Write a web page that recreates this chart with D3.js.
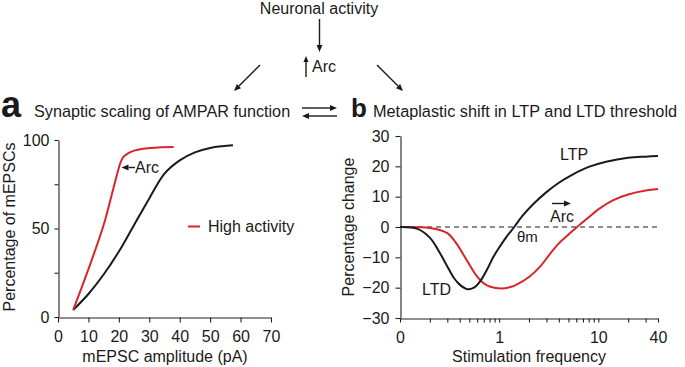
<!doctype html>
<html>
<head>
<meta charset="utf-8" />
<script src="https://cdn.jsdelivr.net/npm/d3@7/dist/d3.min.js"></script>
<style>
  body { margin: 0; background: #fff; }
  svg text { font-family: "Liberation Sans", Arial, Helvetica, sans-serif; fill: #1a1a1a; }
</style>
</head>
<body>
<svg id="fig" width="685" height="367"></svg>

<script>
// ---- panel a: cumulative mEPSC amplitude ----
var ampControl   = [5, 10, 15, 20, 25, 30, 35, 40, 45, 50, 54, 57.5];
var pctControl   = [4, 13, 24, 37, 52, 67, 81, 88.5, 93, 95.5, 96.5, 97];
var ampHigh      = [5, 10, 15, 17.5, 19.8, 20.6, 21.5, 23, 25, 28, 33, 38];
var pctHigh      = [4, 27, 52, 68, 83, 87.5, 90.5, 92.5, 94, 95, 95.8, 96];
var aXTicks      = [0, 10, 20, 30, 40, 50, 60, 70];
var aYTicks      = [0, 25, 50, 75, 100];
var aYLabels     = [0, 50, 100];

// ---- panel b: BCM curve, LTP/LTD vs stimulation frequency ----
var freqBlack    = [0.1, 0.15, 0.2, 0.25, 0.3, 0.35, 0.4, 0.48, 0.55, 0.64, 0.75, 0.87, 1.0, 1.2, 1.42, 1.7, 2.2, 3.0, 4.0, 5.5, 8, 12, 20, 30, 40];
var changeBlack  = [0, -0.6, -3.5, -8.3, -13, -16.8, -19, -20.5, -20.1, -18, -14.2, -10, -6.8, -3, 0, 3.5, 7.5, 11.5, 14.6, 17.3, 19.8, 21.5, 22.8, 23.2, 23.4];
var freqRed      = [0.1, 0.2, 0.3, 0.37, 0.47, 0.6, 0.7, 0.8, 1.05, 1.3, 1.5, 2.0, 2.6, 3.2, 4.0, 5.0, 6.1, 8, 10, 14, 20, 30, 40];
var changeRed    = [0, -0.3, -2, -5.4, -10.9, -16.4, -18.6, -19.6, -20.3, -19.8, -19, -16.5, -13, -9.2, -5.4, -2.5, 0, 3.2, 5.8, 8.8, 10.7, 12, 12.5];
var bXTicks      = [0.1, 0.2, 0.3, 0.4, 0.5, 0.6, 0.7, 0.8, 0.9, 1, 2, 3, 4, 5, 6, 7, 8, 9, 10, 20, 30, 40];
var bXLabels     = {0.1: "0", 1: "1", 10: "10", 40: "40"};
var bYTicks      = [-30, -20, -10, 0, 10, 20, 30];

var RED = "#d8242c", BLACK = "#1a1a1a";

var svg = d3.select("#fig");

function arrow(g, x1, y1, x2, y2, head) {
  // line from (x1,y1) to tip (x2,y2) with a filled head
  head = head || 7;
  var ang = Math.atan2(y2 - y1, x2 - x1);
  var hx = x2 - head * Math.cos(ang), hy = y2 - head * Math.sin(ang);
  g.append("line").attr("x1", x1).attr("y1", y1).attr("x2", hx).attr("y2", hy)
    .attr("stroke", BLACK).attr("stroke-width", 1.4);
  var w = head * 0.42;
  var px = -Math.sin(ang) * w, py = Math.cos(ang) * w;
  g.append("path")
    .attr("d", "M" + x2 + "," + y2 + "L" + (hx + px) + "," + (hy + py) + "L" + (hx - px) + "," + (hy - py) + "Z")
    .attr("fill", BLACK);
}

// ---- top schematic ----
var gTop = svg.append("g");
gTop.append("text").attr("x", 319).attr("y", 14).attr("text-anchor", "middle")
  .attr("font-size", 16).text("Neuronal activity");
arrow(gTop, 319.5, 19, 319.5, 52);
arrow(gTop, 306, 77, 306, 56, 6);
gTop.append("text").attr("x", 312).attr("y", 72).attr("font-size", 16).text("Arc");
arrow(gTop, 260, 65, 234, 91);
arrow(gTop, 377, 65, 403, 91);

// panel letters and titles
gTop.append("text").attr("x", 1).attr("y", 117).attr("font-size", 36).attr("font-weight", "bold").text("a");
gTop.append("text").attr("x", 34).attr("y", 117).attr("font-size", 16.2).text("Synaptic scaling of AMPAR function");
arrow(gTop, 302, 108, 337, 108, 7);
arrow(gTop, 337, 116, 302, 116, 7);
gTop.append("text").attr("x", 351).attr("y", 117).attr("font-size", 26).attr("font-weight", "bold").text("b");
gTop.append("text").attr("x", 373).attr("y", 117).attr("font-size", 16.3).text("Metaplastic shift in LTP and LTD threshold");

// ---- panel a ----
var ax = d3.scaleLinear().domain([0, 70]).range([58, 271]);
var ay = d3.scaleLinear().domain([0, 100]).range([317, 140]);
var ga = svg.append("g");

ga.append("g").attr("transform", "translate(0," + 317.5 + ")")
  .call(d3.axisBottom(ax).tickValues(aXTicks).tickSize(5).tickSizeOuter(0).tickPadding(8));
ga.append("g").attr("transform", "translate(" + 58.5 + ",0)")
  .call(d3.axisLeft(ay).tickValues(aYTicks).tickSize(4).tickSizeOuter(0).tickPadding(5)
    .tickFormat(function (d) { return aYLabels.indexOf(d) >= 0 ? d : ""; }));

var lineA = d3.line().curve(d3.curveCatmullRom.alpha(0.5));
ga.append("path")
  .attr("d", lineA(ampControl.map(function (d, i) { return [ax(d), ay(pctControl[i])]; })))
  .attr("fill", "none").attr("stroke", BLACK).attr("stroke-width", 2);
ga.append("path")
  .attr("d", lineA(ampHigh.map(function (d, i) { return [ax(d), ay(pctHigh[i])]; })))
  .attr("fill", "none").attr("stroke", RED).attr("stroke-width", 2);

arrow(ga, 135, 167.5, 121.5, 167.5, 7);
ga.append("text").attr("x", 135).attr("y", 173).attr("font-size", 16).text("Arc");
ga.append("line").attr("x1", 188).attr("x2", 200).attr("y1", 226.5).attr("y2", 226.5)
  .attr("stroke", RED).attr("stroke-width", 2);
ga.append("text").attr("x", 208).attr("y", 232).attr("font-size", 16).text("High activity");

ga.append("text").attr("x", 165).attr("y", 362).attr("text-anchor", "middle")
  .attr("font-size", 16).text("mEPSC amplitude (pA)");
ga.append("text").attr("transform", "translate(15,227) rotate(-90)").attr("text-anchor", "middle")
  .attr("font-size", 16).text("Percentage of mEPSCs");

// ---- panel b ----
var bx = d3.scaleLog().domain([0.1, 40]).range([400, 658]);
var by = d3.scaleLinear().domain([-30, 30]).range([318, 136]);
var gb = svg.append("g");

gb.append("g").attr("transform", "translate(0," + 318.5 + ")")
  .call(d3.axisBottom(bx).tickValues(bXTicks).tickSize(4).tickSizeOuter(0).tickPadding(9)
    .tickFormat(function (d) { return bXLabels[d] || ""; }));
gb.append("g").attr("transform", "translate(" + 400.5 + ",0)")
  .call(d3.axisLeft(by).tickValues(bYTicks).tickSize(5).tickSizeOuter(0).tickPadding(6));

gb.append("line").attr("x1", bx(0.1)).attr("x2", bx(40)).attr("y1", by(0)).attr("y2", by(0))
  .attr("stroke", BLACK).attr("stroke-width", 1.2).attr("stroke-dasharray", "5,4");

var lineB = d3.line().curve(d3.curveCatmullRom.alpha(0.5));
gb.append("path")
  .attr("d", lineB(freqRed.map(function (d, i) { return [bx(d), by(changeRed[i])]; })))
  .attr("fill", "none").attr("stroke", RED).attr("stroke-width", 2);
gb.append("path")
  .attr("d", lineB(freqBlack.map(function (d, i) { return [bx(d), by(changeBlack[i])]; })))
  .attr("fill", "none").attr("stroke", BLACK).attr("stroke-width", 2);

gb.append("text").attr("x", 560).attr("y", 160).attr("font-size", 16).text("LTP");
gb.append("text").attr("x", 422).attr("y", 295).attr("font-size", 16).text("LTD");
gb.append("text").attr("x", 517).attr("y", 242).attr("font-size", 15).text("θm");
arrow(gb, 552, 203.5, 571, 203.5, 7);
gb.append("text").attr("x", 550).attr("y", 221.5).attr("font-size", 16).text("Arc");

gb.append("text").attr("x", 529).attr("y", 362).attr("text-anchor", "middle")
  .attr("font-size", 16).text("Stimulation frequency");
gb.append("text").attr("transform", "translate(354,227) rotate(-90)").attr("text-anchor", "middle")
  .attr("font-size", 16).text("Percentage change");

// axis styling
svg.selectAll(".domain, .tick line").attr("stroke", "#222").attr("stroke-width", 1.1);
svg.selectAll(".tick text").attr("font-size", 16).attr("fill", "#1a1a1a")
  .attr("font-family", "'Liberation Sans', Arial, sans-serif");
</script>
</body>
</html>
